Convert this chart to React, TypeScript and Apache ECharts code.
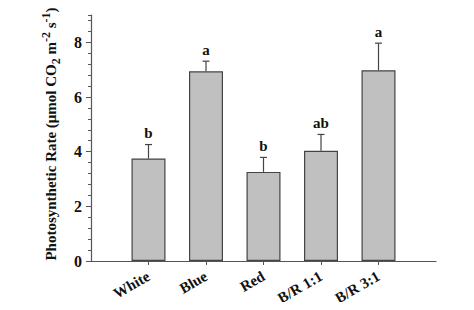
import React, { useEffect, useRef } from "react";
import * as echarts from "echarts";

const categories = ["White", "Blue", "Red", "B/R 1:1", "B/R 3:1"];
const means = [3.75, 6.94, 3.26, 4.03, 6.98];
const errors = [0.51, 0.37, 0.53, 0.6, 0.99];
const letters = ["b", "a", "b", "ab", "a"];
const yTicks = [0, 2, 4, 6, 8];
const yTitle = "{a|Photosynthetic Rate (μmol CO}{sub|2}{a| m}{sup|-2}{a| s}{sup|-1}{a|)}";

const FONT = "'Liberation Serif', 'Times New Roman', serif";

export default function App() {
  const ref = useRef<HTMLDivElement>(null);
  useEffect(() => {
    if (!ref.current) return;
    const chart = echarts.init(ref.current, undefined, { renderer: "svg" });
    const axisCats = ["", ...categories, ""];
    const barData = ["-", ...means, "-"];
    const errData = means.map((m, i) => [i + 1, m, m + errors[i]]);
    const option: any = {
      animation: false,
      grid: { left: 91, right: 38, top: 15, bottom: 49 },
      graphic: [
        {
          type: "text",
          x: 51,
          y: 134,
          rotation: Math.PI / 2,
          style: {
            text: yTitle,
            align: "center",
            verticalAlign: "middle",
            fontFamily: FONT,
            fontWeight: "bold",
            fontSize: 15,
            fill: "#111",
            rich: {
              a: { fontFamily: FONT, fontWeight: "bold", fontSize: 15, fill: "#111", lineHeight: 22 },
              sub: { fontFamily: FONT, fontWeight: "bold", fontSize: 12, fill: "#111", lineHeight: 12, verticalAlign: "bottom" },
              sup: { fontFamily: FONT, fontWeight: "bold", fontSize: 12, fill: "#111", lineHeight: 12, verticalAlign: "top" },
            },
          },
        },
      ],
      xAxis: {
        type: "category",
        data: axisCats,
        boundaryGap: false,
        axisLine: { lineStyle: { color: "#555", width: 1.2 } },
        axisTick: {
          show: true,
          length: 4,
          interval: (i: number) => i > 0 && i < axisCats.length - 1,
          lineStyle: { color: "#555" },
        },
        axisLabel: {
          interval: 0,
          rotate: 30,
          margin: 14,
          fontFamily: FONT,
          fontWeight: "bold",
          fontSize: 15,
          color: "#111",
        },
      },
      yAxis: [
        {
          type: "value",
          min: 0,
          max: 9,
          interval: 2,
          splitLine: { show: false },
          axisLine: { show: true, lineStyle: { color: "#555", width: 1.2 } },
          axisTick: { show: true, length: 5, lineStyle: { color: "#555" } },
          axisLabel: {
            showMaxLabel: false,
            margin: 9,
            fontFamily: FONT,
            fontWeight: "bold",
            fontSize: 16,
            color: "#111",
            formatter: (v: number) => (yTicks.includes(v) ? String(v) : ""),
          },
        },
        {
          type: "value",
          min: 0,
          max: 9,
          interval: 0.4,
          position: "left",
          splitLine: { show: false },
          axisLine: { show: false },
          axisTick: { show: true, length: 3, lineStyle: { color: "#555" } },
          axisLabel: { show: false },
        },
      ],
      series: [
        {
          type: "bar",
          data: barData,
          barWidth: 34,
          itemStyle: { color: "#c0c0c0", borderColor: "#444", borderWidth: 1.2 },
        },
        {
          type: "custom",
          data: errData,
          z: 5,
          renderItem: (params: any, api: any) => {
            const x = api.value(0);
            const base = api.coord([x, api.value(1)]);
            const top = api.coord([x, api.value(2)]);
            const cap = 3.5;
            return {
              type: "group",
              children: [
                {
                  type: "line",
                  shape: { x1: base[0], y1: base[1], x2: top[0], y2: top[1] },
                  style: { stroke: "#444", lineWidth: 1.2 },
                },
                {
                  type: "line",
                  shape: { x1: top[0] - cap, y1: top[1], x2: top[0] + cap, y2: top[1] },
                  style: { stroke: "#444", lineWidth: 1.2 },
                },
                {
                  type: "text",
                  x: top[0],
                  y: top[1] - 4,
                  style: {
                    text: letters[params.dataIndex],
                    textAlign: "center",
                    textVerticalAlign: "bottom",
                    fontFamily: FONT,
                    fontWeight: "bold",
                    fontSize: 15,
                    fill: "#111",
                  },
                },
              ],
            };
          },
        },
      ],
    };
    chart.setOption(option);
    return () => chart.dispose();
  }, []);
  return <div ref={ref} style={{ width: 474, height: 310, margin: -8 }} />;
}
